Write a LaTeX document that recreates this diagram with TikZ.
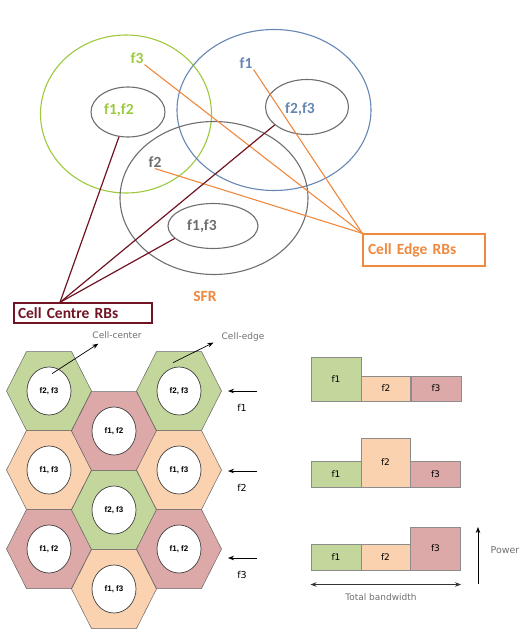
\documentclass[tikz,border=0pt]{standalone}
\usepackage{fontspec}
\setmainfont{Carlito}
\newfontfamily\plainsans{DejaVu Sans}
\newfontfamily\cellsans{Liberation Sans}
\usetikzlibrary{shapes.geometric,arrows.meta}

\definecolor{ringgreen}{HTML}{9DC93E}
\definecolor{ringblue}{HTML}{6686B4}
\definecolor{ringgray}{HTML}{6E6E6E}
\definecolor{edgeorange}{HTML}{F0883E}
\definecolor{centrered}{HTML}{701424}
\definecolor{hexgreen}{HTML}{C3D69B}
\definecolor{hexorange}{HTML}{FAD2B0}
\definecolor{hexpink}{HTML}{DDA8A8}
\definecolor{bandline}{HTML}{8C8C8C}
\definecolor{notegray}{HTML}{707070}

\tikzset{
  ring/.style={draw, ellipse, inner sep=0pt, line width=1.1pt},
  ringlbl/.style={font=\bfseries\fontsize{15.5}{18}\selectfont, inner sep=1pt},
  rbbox/.style={draw, rectangle, line width=1.3pt, align=left, inner xsep=5pt, inner ysep=1pt,
    font=\bfseries\fontsize{15.5}{18}\selectfont},
  edgeline/.style={edgeorange, line width=1.1pt},
  centreline/.style={centrered, line width=1.2pt},
  hexcell/.style={draw=black!60, line width=0.5pt},
  centre/.style={draw=black!75, fill=white, ellipse, inner sep=0pt, minimum width=44, minimum height=48,
    line width=0.7pt, font=\cellsans\bfseries\fontsize{8}{9}\selectfont},
  note/.style={text=notegray, font=\plainsans\fontsize{9}{11}\selectfont, inner sep=1pt},
  sidelbl/.style={font=\plainsans\fontsize{9.5}{11}\selectfont, inner sep=1pt},
  pointer/.style={-{Stealth[length=6pt,width=4.5pt]}, line width=0.7pt},
  band/.style={draw=bandline, line width=1pt, inner sep=0pt, minimum width=50,
    font=\plainsans\fontsize{9}{11}\selectfont}
}

\begin{document}
\begin{tikzpicture}[x=1pt,y=-1pt]
  \useasboundingbox (0,0) rectangle (528,640);

  % Cells
  \node[ring, draw=ringgreen, minimum width=171, minimum height=158] (greencell) at (126,114) {};
  \node[ring, draw=ringblue, minimum width=194, minimum height=161] (bluecell) at (274,110) {};
  \node[ring, draw=ringgray, minimum width=188, minimum height=153] (graycell) at (214,198) {};

  % Centre zones
  \node[ring, draw=ringgray, minimum width=74, minimum height=50] (ftwelve) at (128,112) {};
  \node[ring, draw=ringgray, minimum width=83, minimum height=55] (ftwothree) at (307,107) {};
  \node[ring, draw=ringgray, minimum width=90, minimum height=45] (fonethree) at (213,226) {};

  % Labels
  \node[ringlbl, text=ringgreen] (fthreelbl) at (137,58) {f3};
  \node[ringlbl, text=ringblue] (fonelbl) at (246,63) {f1};
  \node[ringlbl, text=ringgray] (ftwolbl) at (155,162) {f2};
  \node[ringlbl, text=ringgreen] at (119,110) {f1,f2};
  \node[ringlbl, text=ringblue] at (300,109) {f2,f3};
  \node[ringlbl, text=ringgray] at (202,226) {f1,f3};
  \node[ringlbl, text=edgeorange] (sfr) at (205,296) {SFR};

  % RB boxes
  \node[rbbox, draw=edgeorange, text=edgeorange, text width=112pt, minimum height=32] (edgerbs) at (424,250) {Cell Edge RBs};
  \node[rbbox, draw=centrered, text=centrered, text width=130pt, inner xsep=4pt, minimum height=20] (centrerbs) at (83,313) {Cell Centre RBs};

  % Lines
  \draw[edgeline] (fthreelbl.south east) -- (edgerbs.north west);
  \draw[edgeline] (fonelbl.south east) -- (edgerbs.north west);
  \draw[edgeline] (ftwolbl.south) -- (edgerbs.north west);
  \draw[centreline] ([xshift=-23pt]centrerbs.north) -- (ftwelve.250);
  \draw[centreline] ([xshift=-23pt]centrerbs.north) -- (ftwothree.209);
  \draw[centreline] ([xshift=-23pt]centrerbs.north) -- (fonethree.198);

  % Hexagon layout
  \foreach \cx/\cy/\shade/\txt/\nm in {
      49/391/hexgreen/{f2, f3}/ca, 49/470/hexorange/{f1, f3}/cb, 49/549/hexpink/{f1, f2}/cc,
      114/431/hexpink/{f1, f2}/cd, 114/510/hexgreen/{f2, f3}/ce, 114/589/hexorange/{f1, f3}/cf,
      179/391/hexgreen/{f2, f3}/cg, 179/470/hexorange/{f1, f3}/ch, 179/549/hexpink/{f1, f2}/ci} {
    \draw[hexcell, fill=\shade] (\cx-42.5,\cy) -- (\cx-22.5,\cy-39.5) -- (\cx+22.5,\cy-39.5)
      -- (\cx+42.5,\cy) -- (\cx+22.5,\cy+39.5) -- (\cx-22.5,\cy+39.5) -- cycle;
    \node[centre] (\nm) at (\cx,\cy) {\txt};
  }

  % Cell-center / Cell-edge
  \node[note] (cclbl) at (117,335) {Cell-center};
  \node[note] (celbl) at (243,337) {Cell-edge};
  \draw[pointer] ([xshift=3pt,yshift=-7pt]ca.north) -- ([xshift=7pt,yshift=-4pt]cclbl.south west);
  \draw[pointer] ([xshift=-6pt,yshift=4pt]cg.north) -- ([xshift=-7pt]celbl.south west);

  % Bands
  \foreach \fy/\fl/\nm in {391/f1/one, 471/f2/two, 558/f3/three} {
    \coordinate (in\nm) at (257,\fy);
    \node[sidelbl] (side\nm) at (242,\fy+17) {\fl};
    \draw[pointer] (in\nm) -- ([xshift=-29pt]in\nm);
  }

  % Power levels
  \node[band, fill=hexgreen, minimum height=44] (aone) at (336,379) {f1};
  \node[band, fill=hexorange, minimum height=25, minimum width=49] (atwo) at (386,388.5) {f2};
  \node[band, fill=hexpink, minimum height=25] (athree) at (436,388.5) {f3};

  \node[band, fill=hexgreen, minimum height=26] (bone) at (336,474) {f1};
  \node[band, fill=hexorange, minimum height=49, minimum width=49] (btwo) at (385.5,462.5) {f2};
  \node[band, fill=hexpink, minimum height=26] (bthree) at (435.5,474) {f3};

  \node[band, fill=hexgreen, minimum height=26] (cone) at (336,557) {f1};
  \node[band, fill=hexorange, minimum height=26, minimum width=49] (ctwo) at (385.5,557) {f2};
  \node[band, fill=hexpink, minimum height=43] (cthree) at (435.5,548.5) {f3};

  % Axes
  \draw[{Stealth[length=6pt,width=4.5pt]}-{Stealth[length=6pt,width=4.5pt]}, line width=0.7pt, black!80]
    ([yshift=-14pt]cone.south west) -- ([yshift=-14pt]cthree.south east);
  \node[note] (bwlbl) at (381,597) {Total bandwidth};
  \coordinate (powbase) at (478,584);
  \draw[pointer] (powbase) -- ([yshift=57pt]powbase);
  \node[note, font=\plainsans\fontsize{9.5}{11}\selectfont] (powlbl) at (505,550) {Power};
\end{tikzpicture}
\end{document}
